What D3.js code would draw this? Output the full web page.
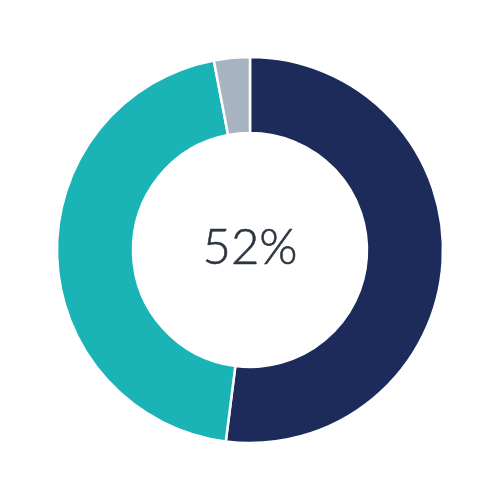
<!DOCTYPE html>
<html>
<head>
<meta charset="utf-8">
<script src="https://cdn.jsdelivr.net/npm/d3@7"></script>
<style>
  body { margin: 0; background: #fff; }
</style>
</head>
<body>
<div id="chart"></div>
<script>
const labels = ["A", "B", "C"];
const values = [52, 45, 3];
const colors = ["#1c2b5a", "#1bb4b6", "#a8b3c1"];
const centerLabel = "52%";

const width = 500, height = 500;
const outerR = 193, innerR = 117;

const svg = d3.select("#chart")
  .append("svg")
  .attr("width", width)
  .attr("height", height);

const g = svg.append("g").attr("transform", `translate(${width / 2}, ${height / 2})`);

const pie = d3.pie().sort(null).value(d => d);
const arc = d3.arc().innerRadius(innerR).outerRadius(outerR);

// slices
g.selectAll("path")
  .data(pie(values))
  .enter()
  .append("path")
  .attr("d", arc)
  .attr("fill", (d, i) => colors[i])
  .attr("stroke", "#fff")
  .attr("stroke-width", 2.5);

// center text
g.append("text")
  .attr("text-anchor", "middle")
  .attr("dy", "0.29em")
  .attr("font-family", "Lato, sans-serif")
  .attr("font-weight", 300)
  .attr("font-size", 49)
  .attr("fill", "#2c3540")
  .attr("stroke", "#2c3540")
  .attr("stroke-width", 0.6)
  .text(centerLabel);
</script>
</body>
</html>
